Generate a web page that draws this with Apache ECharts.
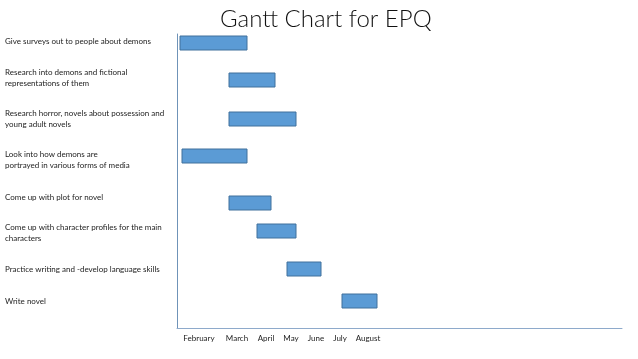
<!DOCTYPE html>
<html>
<head>
<meta charset="utf-8">
<script src="https://cdn.jsdelivr.net/npm/echarts@6/dist/echarts.min.js"></script>
<style>html,body{margin:0;padding:0;background:#fff}#c{width:638px;height:359px}</style>
</head>
<body>
<div id="c"></div>
<script>
// Task labels (y axis)
var tasks = [
  "Give surveys out to people about demons",
  "Research into demons and fictional\nrepresentations of them",
  "Research horror, novels about possession and\nyoung adult novels",
  "Look into how demons are\nportrayed in various forms of media",
  "Come up with plot for novel",
  "Come up with character profiles for the main\ncharacters",
  "Practice writing and -develop language skills",
  "Write novel"
];
// Vertical position of each task row (timeline units from top)
var taskRow = [9, 46, 85, 122, 169, 197, 235, 267];
var labelRow = [7, 44, 85, 126, 163, 199, 235, 267];
// Task start / end on the timeline
var taskStart = [3, 52, 52, 5, 52, 80, 110, 165];
var taskEnd   = [70, 98, 119, 70, 94, 119, 144, 200];
// Month tick labels and their timeline positions
var months = ["February", "March", "April", "May", "June", "July", "August"];
var monthPos = [22, 60, 89, 114, 139, 163, 191];

var FONT = "Lato";
var chart = echarts.init(document.getElementById('c'));
var data = tasks.map(function (t, i) { return [taskStart[i], taskEnd[i], taskRow[i]]; });

chart.setOption({
  animation: false,
  title: {
    text: "Gantt Chart for EPQ",
    left: 215, top: 2,
    textStyle: { fontFamily: FONT, fontWeight: 300, fontSize: 24, color: '#111' }
  },
  grid: { left: 177, right: 16, top: 34, bottom: 31 },
  xAxis: {
    type: 'value', min: 0, max: 445,
    splitLine: { show: false },
    axisLine: { show: true, onZero: false, lineStyle: { color: '#8eaacb', width: 1 } },
    axisTick: { show: false },
    axisLabel: {
      customValues: monthPos,
      formatter: function (v) { var i = monthPos.indexOf(v); return i >= 0 ? months[i] : ''; },
      fontFamily: FONT, fontSize: 8, color: '#222', margin: 6
    }
  },
  yAxis: {
    type: 'value', min: 0, max: 294, inverse: true,
    splitLine: { show: false },
    axisLine: { show: true, onZero: false, lineStyle: { color: '#6f93b8', width: 1 } },
    axisTick: { show: false },
    axisLabel: {
      customValues: labelRow,
      formatter: function (v) { var i = labelRow.indexOf(v); return i >= 0 ? tasks[i] : ''; },
      align: 'left', margin: 172,
      fontFamily: FONT, fontSize: 8, color: '#222', lineHeight: 11
    }
  },
  series: [{
    type: 'custom',
    data: data,
    encode: { x: [0, 1], y: 2 },
    renderItem: function (params, api) {
      var s = api.coord([api.value(0), api.value(2)]);
      var e = api.coord([api.value(1), api.value(2)]);
      var h = 14;
      return {
        type: 'rect',
        shape: { x: s[0], y: s[1] - h / 2, width: e[0] - s[0], height: h },
        style: { fill: '#5b9bd5', stroke: '#41719c', lineWidth: 1 }
      };
    }
  }]
});
</script>
</body>
</html>
